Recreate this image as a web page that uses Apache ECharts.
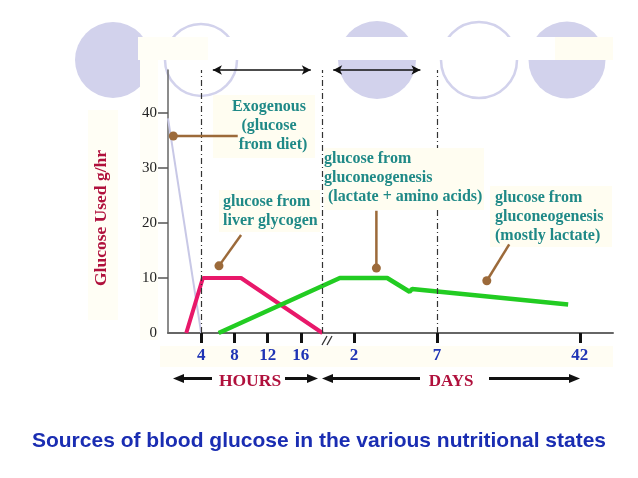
<!DOCTYPE html>
<html>
<head>
<meta charset="utf-8">
<script src="https://cdn.jsdelivr.net/npm/echarts@6/dist/echarts.min.js"></script>
<style>
html,body{margin:0;padding:0;background:#fff;}
#chart{width:638px;height:478px;}
</style>
</head>
<body>
<div id="chart"></div>
<script>
// ---- data (x in schematic time units: hours for the left part, day positions on the right) ----
const xTickPos = [4, 8, 12, 16, 22.4, 32.4, 49.6];
const xTickLabels = ['4', '8', '12', '16', '2', '7', '42'];
const yTickValues = [0, 10, 20, 30, 40];
const exogenous = [[0, 39], [4, 0]];
const liverGlycogen = [[2.2, 0], [4.2, 10], [8.8, 10], [18.6, 0]];
const gluconeogenesis = [[6.1, 0], [20.7, 10], [26.4, 10], [29.1, 7.5], [29.4, 8], [48.2, 5.2]];
const phaseLines = [4, 18.6, 32.4];
const topSpans = [[5.4, 17.2], [19.9, 30.4]];
const pointerExo = [[0.64, 35.8], [8.4, 35.8]];
const pointerLiver = [[6.14, 12.2], [8.8, 17.8]];
const pointerLactAA = [[25.1, 11.8], [25.1, 22.2]];
const pointerLact = [[38.4, 9.5], [41.1, 16.1]];
const yTitle = 'Glucose Used g/hr';
const chartTitle = 'Sources of blood glucose in the various nutritional states';

const TEAL = '#1f8987', BROWN = '#9c6a3a', CREAM = '#fffdf1', LAV = '#d2d2ec';
const serif = '"Liberation Serif", "DejaVu Serif", serif';

function box(x, y, w, h, z) {
  return {type: 'rect', z: z, silent: true, shape: {x: x, y: y, width: w, height: h}, style: {fill: CREAM}};
}
function tealText(x, y, txt, align) {
  return {type: 'text', z: 7, silent: true, style: {x: x, y: y, text: txt, fill: TEAL, align: align || 'left',
    verticalAlign: 'top', font: 'bold 16px ' + serif, lineHeight: 19.3}};
}
function arrow(x1, x2, y, left, right) {
  const els = [{type: 'line', z: 7, silent: true, shape: {x1: left ? x1 + 8 : x1, y1: y, x2: right ? x2 - 8 : x2, y2: y},
    style: {stroke: '#111', lineWidth: 3}}];
  if (left) els.push({type: 'polygon', z: 7, silent: true, shape: {points: [[x1, y], [x1 + 11, y - 4.5], [x1 + 11, y + 4.5]]}, style: {fill: '#111'}});
  if (right) els.push({type: 'polygon', z: 7, silent: true, shape: {points: [[x2, y], [x2 - 11, y - 4.5], [x2 - 11, y + 4.5]]}, style: {fill: '#111'}});
  return els;
}
function pointer(data) {
  return {type: 'line', z: 8, data: data, showSymbol: true, silent: true,
    symbol: 'circle', itemStyle: {color: BROWN}, lineStyle: {color: BROWN, width: 2.5},
    animation: false};
}

const chart = echarts.init(document.getElementById('chart'), null, {renderer: 'canvas'});
const graphics = [
  // decorative circles
  {type: 'circle', z: -1, silent: true, shape: {cx: 113, cy: 60, r: 38}, style: {fill: LAV}},
  {type: 'circle', z: -1, silent: true, shape: {cx: 201, cy: 60, r: 36}, style: {fill: 'none', stroke: LAV, lineWidth: 2.5}},
  {type: 'circle', z: -1, silent: true, shape: {cx: 377, cy: 60, r: 39}, style: {fill: LAV}},
  {type: 'circle', z: -1, silent: true, shape: {cx: 479, cy: 60, r: 38}, style: {fill: 'none', stroke: LAV, lineWidth: 2.5}},
  {type: 'circle', z: -1, silent: true, shape: {cx: 567, cy: 60, r: 38.5}, style: {fill: LAV}},
  {type: 'rect', z: -1, silent: true, shape: {x: 138, y: 37, width: 417, height: 23}, style: {fill: '#ffffff'}},
  {type: 'rect', z: -1, silent: true, shape: {x: 138, y: 37, width: 70, height: 23}, style: {fill: '#fffef6'}},
  {type: 'rect', z: -1, silent: true, shape: {x: 555, y: 37, width: 58, height: 23}, style: {fill: '#fffdf2'}},
  // faint cream panels
  {type: 'rect', z: -1, silent: true, shape: {x: 140, y: 60, width: 18, height: 280}, style: {fill: '#fffef7'}},
  {type: 'rect', z: -1, silent: true, shape: {x: 88, y: 110, width: 30, height: 210}, style: {fill: '#fffef5'}},
  {type: 'rect', z: -1, silent: true, shape: {x: 160, y: 346, width: 453, height: 21}, style: {fill: '#fffdf3'}},
  // y axis title
  {type: 'text', z: 7, silent: true, x: 101, y: 218, rotation: Math.PI / 2,
    style: {x: 0, y: 0, text: yTitle, fill: '#b0103c', align: 'center', verticalAlign: 'middle', font: 'bold 17.5px ' + serif}},
  // annotation boxes
  box(213, 95, 102, 63, 6), tealText(269, 97, 'Exogenous\n(glucose\n  from diet)', 'center'),
  box(324, 148, 160, 62, 6), tealText(324, 149, 'glucose from\ngluconeogenesis\n (lactate + amino acids)'),
  box(219, 190, 101, 42, 6), tealText(223, 192, 'glucose from\nliver glycogen'),
  box(490, 186, 122, 61, 6), tealText(495, 188, 'glucose from\ngluconeogenesis\n(mostly lactate)'),
  // axis break
  {type: 'line', z: 7, silent: true, shape: {x1: 322, y1: 345, x2: 327, y2: 336}, style: {stroke: '#333', lineWidth: 1.3}},
  {type: 'line', z: 7, silent: true, shape: {x1: 327, y1: 345, x2: 332, y2: 336}, style: {stroke: '#333', lineWidth: 1.3}},
  // hours / days
  {type: 'text', z: 7, silent: true, style: {x: 250, y: 381.5, text: 'HOURS', fill: '#b0103c', align: 'center', verticalAlign: 'middle', font: 'bold 17.5px ' + serif}},
  {type: 'text', z: 7, silent: true, style: {x: 451, y: 381.5, text: 'DAYS', fill: '#b0103c', align: 'center', verticalAlign: 'middle', font: 'bold 17px ' + serif}},
  // title
  {type: 'text', z: 7, silent: true, style: {x: 319, y: 441, text: chartTitle, fill: '#1a2db2', align: 'center', verticalAlign: 'middle',
    font: 'bold 21px "Liberation Sans", Arial, sans-serif'}}
].concat(arrow(173, 212, 378.5, true, false), arrow(285, 318, 378.5, false, true),
         arrow(322, 420, 378.5, true, false), arrow(489, 580, 378.5, false, true));

const option = {
  animation: false,
  backgroundColor: '#ffffff',
  grid: {left: 168, right: 25, top: 70, bottom: 145, containLabel: false},
  xAxis: {
    type: 'value', min: 0, max: 53.6,
    splitLine: {show: false},
    axisLine: {lineStyle: {color: '#666', width: 2}},
    axisTick: {customValues: xTickPos, length: 10, lineStyle: {color: '#111', width: 3}},
    axisLabel: {customValues: xTickPos, margin: 14, color: '#1f34b5', fontWeight: 'bold', fontSize: 17, fontFamily: serif,
      formatter: function (v) {
        const i = xTickPos.findIndex(function (p) { return Math.abs(p - v) < 1e-6; });
        return i >= 0 ? xTickLabels[i] : '';
      }}
  },
  yAxis: {
    type: 'value', min: 0, max: 47.8,
    splitLine: {show: false},
    axisLine: {show: true, lineStyle: {color: '#666', width: 1.5}},
    axisTick: {show: true, customValues: yTickValues.slice(1), length: 10, lineStyle: {color: '#555', width: 1.5}},
    axisLabel: {customValues: yTickValues, margin: 11, color: '#222', fontSize: 15, fontFamily: serif}
  },
  graphic: graphics,
  series: [
    {type: 'line', name: 'Exogenous', data: exogenous, showSymbol: false, symbol: 'none', z: 2,
      lineStyle: {color: '#c8c8e6', width: 2}},
    {type: 'line', name: 'Liver glycogen', data: liverGlycogen, showSymbol: false, symbol: 'none', z: 3,
      lineStyle: {color: '#e8186a', width: 4}},
    {type: 'line', name: 'Gluconeogenesis', data: gluconeogenesis, showSymbol: false, symbol: 'none', z: 4,
      lineStyle: {color: '#22cc22', width: 4.5}},
    {type: 'line', data: [], z: 2, silent: true,
      markLine: {silent: true, symbol: 'none', label: {show: false},
        lineStyle: {color: '#333', width: 1.2, type: [6, 3, 1, 3]},
        data: phaseLines.map(function (x) { return {xAxis: x}; })}},
    {type: 'line', data: [], z: 5, silent: true,
      markLine: {silent: true, symbol: ['arrow', 'arrow'], symbolSize: [7, 9], label: {show: false},
        lineStyle: {color: '#111', width: 1.5, type: 'solid'},
        data: topSpans.map(function (s) { return [{coord: [s[0], 47.8]}, {coord: [s[1], 47.8]}]; })}},
    pointer(pointerExo), pointer(pointerLiver), pointer(pointerLactAA), pointer(pointerLact)
  ]
};
// dots only at the first point of each pointer
option.series.slice(5).forEach(function (s) {
  s.data = s.data.map(function (p, i) { return {value: p, symbolSize: i === 0 ? 9 : 0}; });
});
chart.setOption(option);
</script>
</body>
</html>
